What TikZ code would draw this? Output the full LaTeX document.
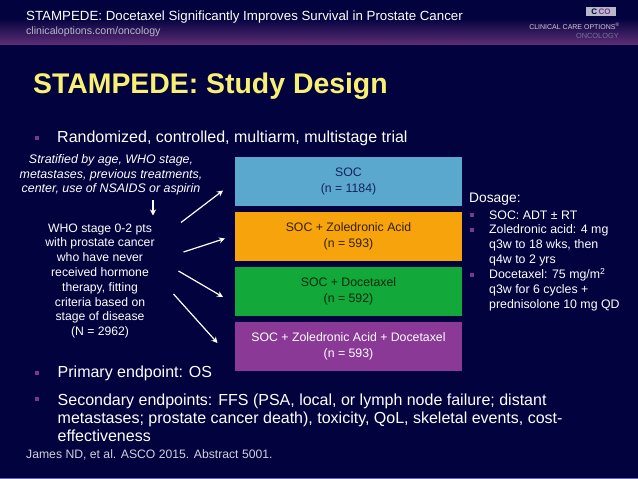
\documentclass[tikz,border=0pt]{standalone}
\usepackage{fontspec}
\setmainfont{Liberation Sans}
\usetikzlibrary{arrows.meta}
\definecolor{slidebg}{HTML}{02023F}
\definecolor{headpurple}{HTML}{5C2C74}
\definecolor{bulletpurple}{HTML}{75398F}
\definecolor{socblue}{HTML}{5BA8CF}
\definecolor{zolorange}{HTML}{F7A30C}
\definecolor{docgreen}{HTML}{12A83A}
\definecolor{bothpurple}{HTML}{8A3A96}
\definecolor{titleyellow}{HTML}{F8F072}
\tikzstyle{arm} = [rectangle, minimum width=227pt, minimum height=49pt, inner sep=0pt,
    align=center, font=\fontsize{12.3}{15.5}\selectfont]
\tikzstyle{body} = [anchor=west, inner sep=0pt, align=left, text=white,
    font=\fontsize{16}{18}\selectfont]
\tikzstyle{small} = [inner sep=0pt, align=center, text=white,
    font=\fontsize{12.2}{14.8}\selectfont]
\tikzstyle{dose} = [anchor=west, inner sep=0pt, align=left, text=white,
    font=\fontsize{12.35}{15}\selectfont]
\tikzstyle{bullet} = [rectangle, fill=bulletpurple, minimum size=4.5pt, inner sep=0pt]
\tikzstyle{line} = [draw=white, line width=1.2pt, -{Stealth[length=6pt,width=6pt]}]

\begin{document}
\begin{tikzpicture}[x=1pt, y=-1pt]
      \fill [slidebg] (0, 0) rectangle (638, 479);
      \useasboundingbox (0, 0) rectangle (638, 479);
      \shade [top color=slidebg, bottom color=headpurple] (0, 18) rectangle (638, 44);
      \fill [color=slidebg!70!blue!60!white] (0, 477.5) rectangle (638, 479);
      % header
      \node [anchor=west, inner sep=0pt, text=white, font=\fontsize{13.3}{15}\selectfont] (head) at (26, 17) {STAMPEDE: Docetaxel Significantly Improves Survival in Prostate Cancer};
      \node [anchor=west, inner sep=0pt, text=white!72!slidebg, font=\fontsize{10.6}{12}\selectfont] (site) at (26, 32) {clinicaloptions.com/oncology};
      \node [anchor=center, fill=white!72!slidebg, minimum width=30pt, minimum height=9.5pt, inner sep=0pt, text=slidebg, font=\bfseries\fontsize{8}{8}\selectfont] (logo) at (601, 11.5) {C\,\textcolor{bulletpurple}{CO}};
      \node [anchor=east, inner sep=0pt, text=white!80!slidebg, font=\fontsize{7}{8}\selectfont] (cco) at (620, 26.5) {CLINICAL CARE OPTIONS\textsuperscript{®}};
      \node [anchor=east, inner sep=0pt, text=white!45!slidebg, font=\fontsize{7.4}{8}\selectfont] (onc) at (619, 35.5) {ONCOLOGY};
      % title
      \node [anchor=west, inner sep=0pt, text=titleyellow, font=\bfseries\fontsize{28.4}{32}\selectfont] (title) at (33, 86) {STAMPEDE: Study Design};
      % bullets
      \node [bullet] (b1) at (37, 138) {};
      \node [body] (rand) at (57, 138.5) {Randomized, controlled, multiarm, multistage trial};
      \node [bullet] (b2) at (37, 373) {};
      \node [body] (prim) at (57.5, 373.5) {Primary endpoint: OS};
      \node [bullet] (b3) at (37, 399) {};
      \node [body] (sec) at (57.5, 417.5) {Secondary endpoints: FFS (PSA, local, or lymph node failure; distant\\metastases; prostate cancer death), toxicity, QoL, skeletal events, cost-\\effectiveness};
      \node [anchor=west, inner sep=0pt, text=white!82!slidebg, font=\fontsize{12.2}{14}\selectfont] (ref) at (26, 455) {James ND, et al. ASCO 2015. Abstract 5001.};
      % left column
      \node [small, font=\itshape\fontsize{12.4}{14.6}\selectfont] (strat) at (111, 175) {Stratified by age, WHO stage,\\metastases, previous treatments,\\center, use of NSAIDS or aspirin};
      \node [small] (who) at (100, 281) {WHO stage 0-2 pts\\with prostate cancer\\who have never\\received hormone\\therapy, fitting\\criteria based on\\stage of disease\\(N = 2962)};
      % arms
      \node [arm, fill=socblue, text=slidebg!80!socblue] (soc) at (348.5, 181.5) {SOC\\(n = 1184)};
      \node [arm, fill=zolorange, text=black!80!zolorange] (zol) at (348.5, 236.5) {SOC + Zoledronic Acid\\(n = 593)};
      \node [arm, fill=docgreen, text=black!75!docgreen] (doc) at (348.5, 291.5) {SOC + Docetaxel\\(n = 592)};
      \node [arm, fill=bothpurple, text=white] (both) at (348.5, 346.5) {SOC + Zoledronic Acid + Docetaxel\\(n = 593)};
      % dosage
      \node [dose, font=\fontsize{13.8}{15}\selectfont] (dosage) at (469, 199) {Dosage:};
      \node [bullet, minimum size=3.5pt] (d1) at (472, 215) {};
      \node [dose] (socdose) at (489, 215) {SOC: ADT ± RT};
      \node [bullet, minimum size=3.5pt] (d2) at (472, 230) {};
      \node [dose] (zoldose) at (489, 245) {Zoledronic acid: 4 mg\\q3w to 18 wks, then\\q4w to 2 yrs};
      \node [bullet, minimum size=3.5pt] (d3) at (472, 275) {};
      \node [dose] (docdose) at (489, 290) {Docetaxel: 75 mg/m\textsuperscript{2}\\q3w for 6 cycles +\\prednisolone 10 mg QD};
      % arrows
      \coordinate (downa) at (153, 200);
      \coordinate (downb) at (153, 215.5);
      \coordinate (fromsoc) at (181, 222.5);
      \coordinate (tosoc) at (223, 190.5);
      \coordinate (fromzol) at (183.5, 252);
      \coordinate (tozol) at (225, 238.5);
      \coordinate (fromdoc) at (178.5, 271);
      \coordinate (todoc) at (223, 297);
      \coordinate (fromboth) at (173.5, 294);
      \coordinate (toboth) at (217.5, 343);
      \path [line] (downa) -- (downb);
      \path [line] (fromsoc) -- (tosoc);
      \path [line] (fromzol) -- (tozol);
      \path [line] (fromdoc) -- (todoc);
      \path [line] (fromboth) -- (toboth);
  \end{tikzpicture}
\end{document}
